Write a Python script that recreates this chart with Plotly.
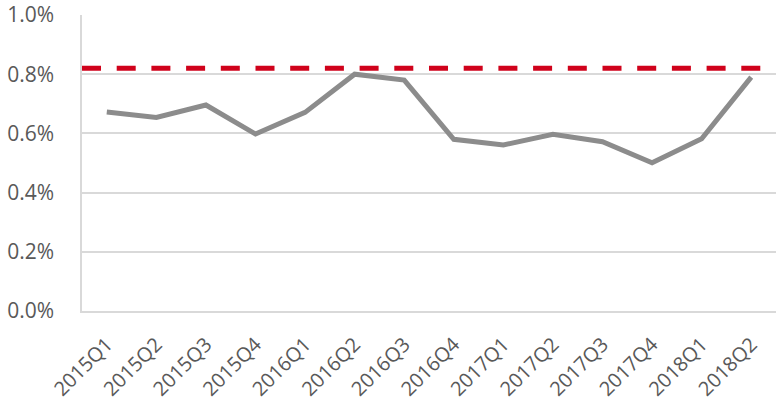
import plotly.graph_objects as go

quarters = ["2015Q1", "2015Q2", "2015Q3", "2015Q4", "2016Q1", "2016Q2", "2016Q3",
            "2016Q4", "2017Q1", "2017Q2", "2017Q3", "2017Q4", "2018Q1", "2018Q2"]
ratio = [0.672, 0.654, 0.696, 0.598, 0.671, 0.800, 0.780,
         0.580, 0.561, 0.597, 0.572, 0.501, 0.582, 0.790]
threshold = 0.82
y_ticks = [0.0, 0.2, 0.4, 0.6, 0.8, 1.0]
y_tick_labels = ["0.0%", "0.2%", "0.4%", "0.6%", "0.8%", "1.0%"]

fig = go.Figure()
fig.add_trace(go.Scatter(
    x=quarters, y=ratio, mode="lines",
    line=dict(color="#8c8c8c", width=5),
    showlegend=False, hoverinfo="skip",
))
fig.add_shape(type="line", xref="paper", yref="y", x0=0, x1=0.987,
              y0=threshold, y1=threshold,
              line=dict(color="#d0021b", width=5, dash="19px,15.7px"))

font_family = "Open Sans, Noto Sans, sans-serif"
fig.update_layout(
    width=782, height=412,
    margin=dict(l=82, r=6, t=15, b=101),
    paper_bgcolor="white", plot_bgcolor="white",
    font=dict(family=font_family, color="#595959"),
    xaxis=dict(
        type="category", range=[-0.5, len(quarters) - 0.5],
        tickangle=-45, tickfont=dict(size=20, color="#595959"),
        showgrid=False, showline=True, linecolor="#d9d9d9", linewidth=1.5,
        ticks="", zeroline=False, automargin=False, ticklabelstandoff=12,
    ),
    yaxis=dict(
        range=[0, 1.0], tickvals=y_ticks, ticktext=y_tick_labels,
        tickfont=dict(size=21, color="#595959"),
        showgrid=True, gridcolor="#d9d9d9", gridwidth=1.5,
        showline=True, linecolor="#d9d9d9", linewidth=1.5,
        zeroline=False, ticks="", ticklabelstandoff=22, automargin=False,
    ),
)

fig.write_html("out.html")
